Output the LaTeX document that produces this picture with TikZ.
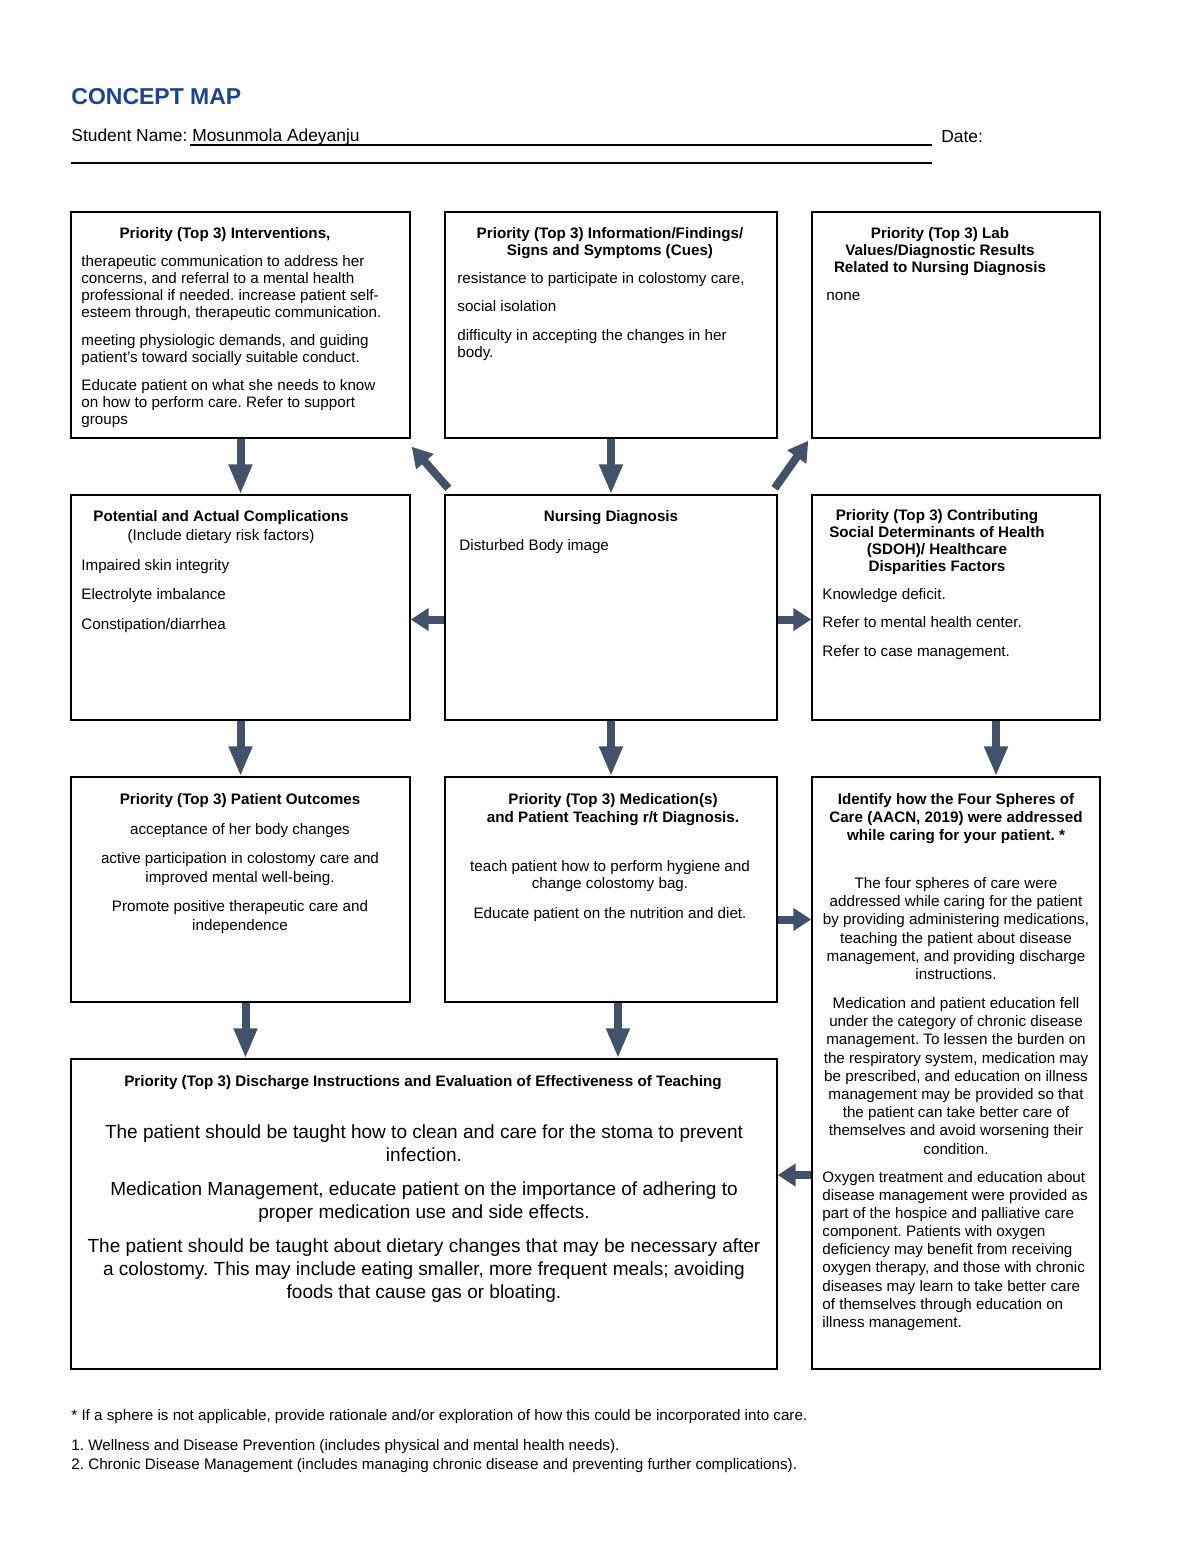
\documentclass[tikz,border=0pt]{standalone}
\usepackage{fontspec}
\setmainfont{Liberation Sans}
\frenchspacing
\usetikzlibrary{arrows.meta,fit}
\definecolor{arrowslate}{RGB}{66,82,106}
\definecolor{titleblue}{RGB}{28,70,140}
\tikzset{
  box/.style={draw, line width=0.7pt, inner sep=0pt},
  head/.style={font=\fontsize{7.6}{8.5}\selectfont\bfseries, align=center, inner sep=0pt},
  body/.style={font=\fontsize{7.6}{8.5}\selectfont, align=left, inner sep=0pt},
  cbody/.style={body, align=center},
  blockarrow/.style={draw=arrowslate, line width=4pt, -{Triangle[width=11pt,length=#1]}},
  blockarrow/.default=14pt
}

\begin{document}
\begin{tikzpicture}[x=0.5pt, y=-0.5pt]
        \useasboundingbox (0,0) rectangle (1200,1553);
        \node[anchor=west, inner sep=0pt, font=\fontsize{11.5}{13}\selectfont\bfseries, text=titleblue] (title) at (71,97) {CONCEPT MAP};
        \node[anchor=west, inner sep=0pt, font=\fontsize{8.7}{10}\selectfont] (student) at (71,137) {Student Name: Mosunmola Adeyanju};
        \node[anchor=west, inner sep=0pt, font=\fontsize{8.7}{10}\selectfont] (date) at (941,137) {Date:};
        \draw[line width=0.6pt] (190,145) -- (932,145);
        \draw[line width=0.6pt] (71,163) -- (932,163);
        % boxes
        \node[box, fit={(71,212) (410,438)}] (A) {};
        \node[box, fit={(445,212) (777,438)}] (B) {};
        \node[box, fit={(812,212) (1100,438)}] (C) {};
        \node[box, fit={(71,495) (410,720)}] (D) {};
        \node[box, fit={(445,495) (777,720)}] (E) {};
        \node[box, fit={(812,495) (1100,720)}] (F) {};
        \node[box, fit={(71,777) (410,1002)}] (G) {};
        \node[box, fit={(445,777) (777,1002)}] (H) {};
        \node[box, fit={(812,777) (1100,1369)}] (I) {};
        \node[box, fit={(71,1059) (777,1369)}] (J) {};
        % texts
        \node[head] (Ahead) at (225,235) {Priority (Top 3) Interventions,};
        \node[body, anchor=north west] (Abody) at (81,255) {therapeutic communication to address her\\concerns, and referral to a mental health\\professional if needed. increase patient self-\\esteem through, therapeutic communication.\\[5.5pt]meeting physiologic demands, and guiding\\patient's toward socially suitable conduct.\\[5.5pt]Educate patient on what she needs to know\\on how to perform care. Refer to support\\groups};
        \node[head, anchor=north] (Bhead) at (610,227) {Priority (Top 3) Information/Findings/\\Signs and Symptoms (Cues)};
        \node[body, anchor=north west] (Bbody) at (457,272) {resistance to participate in colostomy care,\\[5.5pt]social isolation\\[6pt]difficulty in accepting the changes in her\\body.};
        \node[head, anchor=north] (Chead) at (940,227) {Priority (Top 3) Lab\\Values/Diagnostic Results\\Related to Nursing Diagnosis};
        \node[body, anchor=west] (Cbody) at (826,296) {none};
        \node[head, anchor=north] (Dhead) at (221,510) {Potential and Actual Complications\\[1pt]{\mdseries (Include dietary risk factors)}};
        \node[body, anchor=north west] (Dbody) at (81,559) {Impaired skin integrity\\[6.25pt]Electrolyte imbalance\\[6.25pt]Constipation/diarrhea};
        \node[head] (Ehead) at (611,518) {Nursing Diagnosis};
        \node[body, anchor=west] (Ebody) at (459,547) {Disturbed Body image};
        \node[head, anchor=north] (Fhead) at (937,509) {Priority (Top 3) Contributing\\Social Determinants of Health\\(SDOH)/ Healthcare\\Disparities Factors};
        \node[body, anchor=north west] (Fbody) at (822,588) {Knowledge deficit.\\[5.5pt]Refer to mental health center.\\[6pt]Refer to case management.};
        \node[head] (Ghead) at (240,801) {Priority (Top 3) Patient Outcomes};
        \node[cbody, anchor=north] (Gbody) at (240,823) {acceptance of her body changes\\[6pt]active participation in colostomy care and\\[1pt]improved mental well-being.\\[6pt]Promote positive therapeutic care and\\[1pt]independence};
        \node[head, anchor=north] (Hhead) at (613,793) {Priority (Top 3) Medication(s)\\[0.5pt]and Patient Teaching r/t Diagnosis.};
        \node[cbody, anchor=north] (Hbody) at (610,860) {teach patient how to perform hygiene and\\change colostomy bag.\\[6.5pt]Educate patient on the nutrition and diet.};
        \node[head, anchor=north, font=\fontsize{7.6}{9}\selectfont\bfseries] (Ihead) at (956,793) {Identify how the Four Spheres of\\Care (AACN, 2019) were addressed\\while caring for your patient. *};
        \node[cbody, anchor=north, font=\fontsize{7.6}{9.1}\selectfont] (Ibody) at (956,877) {The four spheres of care were\\addressed while caring for the patient\\by providing administering medications,\\teaching the patient about disease\\management, and providing discharge\\instructions.\\[5.4pt]Medication and patient education fell\\under the category of chronic disease\\management. To lessen the burden on\\the respiratory system, medication may\\be prescribed, and education on illness\\management may be provided so that\\the patient can take better care of\\themselves and avoid worsening their\\condition.};
        \node[body, anchor=north west, font=\fontsize{7.6}{9.05}\selectfont] (Ioxygen) at (822,1171) {Oxygen treatment and education about\\disease management were provided as\\part of the hospice and palliative care\\component. Patients with oxygen\\deficiency may benefit from receiving\\oxygen therapy, and those with chronic\\diseases may learn to take better care\\of themselves through education on\\illness management.};
        \node[head] (Jhead) at (423,1083) {Priority (Top 3) Discharge Instructions and Evaluation of Effectiveness of Teaching};
        \node[cbody, anchor=north, font=\fontsize{9.5}{11.5}\selectfont] (Jbody) at (424,1124) {The patient should be taught how to clean and care for the stoma to prevent\\infection.\\[5.5pt]Medication Management, educate patient on the importance of adhering to\\proper medication use and side effects.\\[5.5pt]The patient should be taught about dietary changes that may be necessary after\\a colostomy. This may include eating smaller, more frequent meals; avoiding\\foods that cause gas or bloating.};
        \node[body, anchor=west] (note) at (71,1417) {* If a sphere is not applicable, provide rationale and/or exploration of how this could be incorporated into care.};
        \node[body, anchor=north west, font=\fontsize{7.6}{9.5}\selectfont] (spheres) at (71,1439) {1. Wellness and Disease Prevention (includes physical and mental health needs).\\2. Chronic Disease Management (includes managing chronic disease and preventing further complications).};
        % arrows
        \draw[blockarrow=15pt] (A.south) -- (D.north);
        \draw[blockarrow=15pt] (B.south) -- (E.north);
        \draw[blockarrow=10pt] ([shift={(4,-6)}]E.north west) -- ([shift={(1,8)}]A.south east);
        \draw[blockarrow=10pt] ([shift={(-3,-6)}]E.north east) -- ([shift={(-3,2)}]C.south west);
        \draw[blockarrow=9pt] ([shift={(0,12)}]E.west) -- ([shift={(0,12)}]D.east);
        \draw[blockarrow=9pt] ([shift={(0,12)}]E.east) -- ([shift={(0,12)}]F.west);
        \draw[blockarrow=15pt] (D.south) -- (G.north);
        \draw[blockarrow=15pt] (E.south) -- (H.north);
        \draw[blockarrow=15pt] ([shift={(40,0)}]F.south) -- ([shift={(40,0)}]F.south |- I.north);
        \draw[blockarrow=9pt] ([shift={(0,30)}]H.east) -- ([shift={(0,30)}]H.east -| I.west);
        \draw[blockarrow=15pt] ([shift={(5,0)}]G.south) -- ([shift={(5,0)}]G.south |- J.north);
        \draw[blockarrow=15pt] ([shift={(7,0)}]H.south) -- ([shift={(7,0)}]H.south |- J.north);
        \draw[blockarrow=9pt] ([shift={(0,102)}]I.west) -- ([shift={(0,102)}]I.west -| J.east);
    \end{tikzpicture}
\end{document}
